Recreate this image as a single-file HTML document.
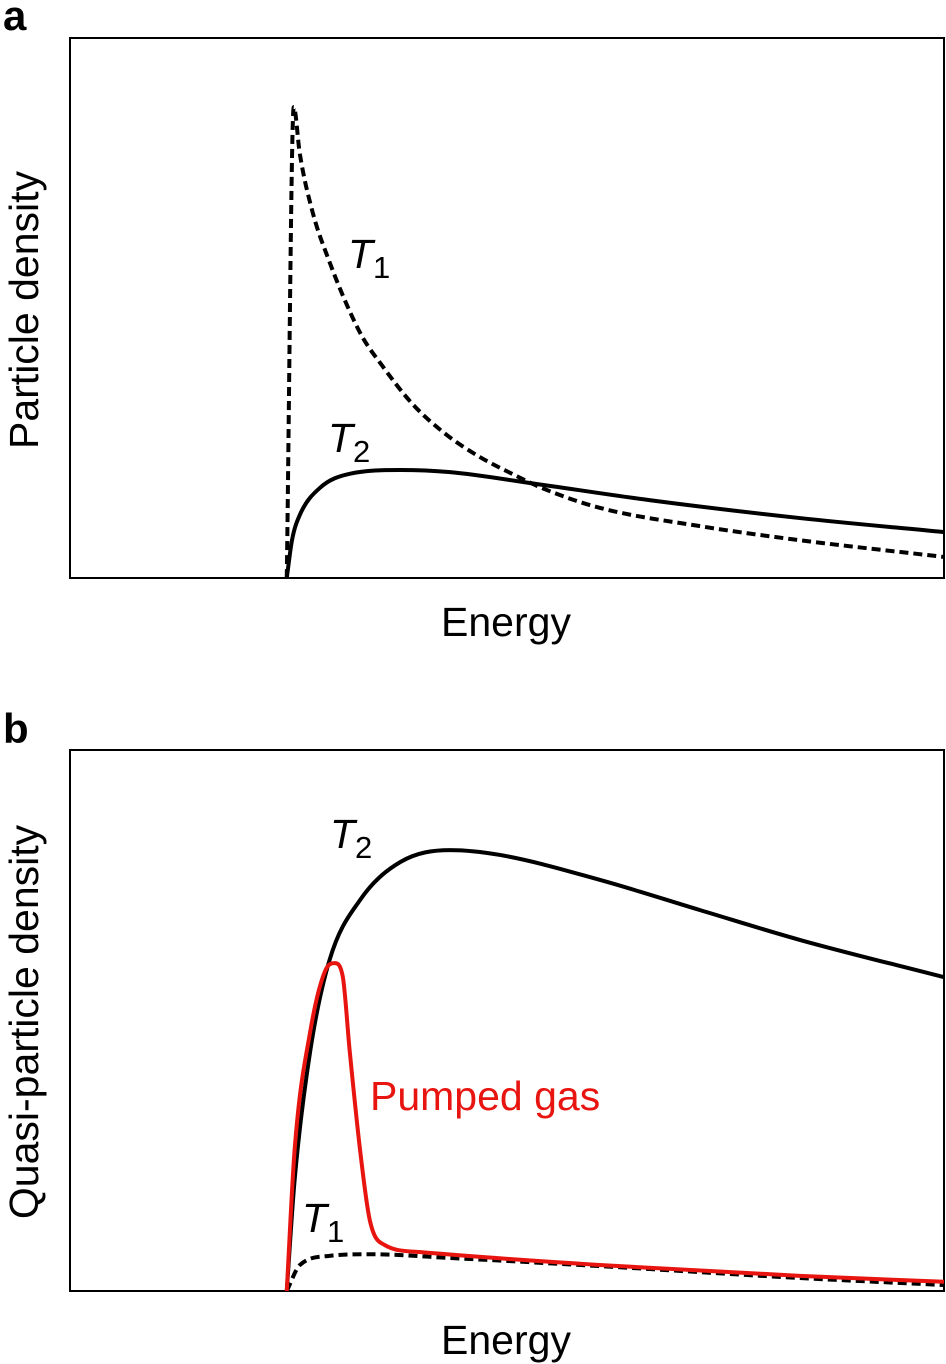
<!DOCTYPE html>
<html><head><meta charset="utf-8"><style>
body{margin:0;background:#fff}
svg{display:block;font-family:"Liberation Sans",sans-serif}
</style></head><body>
<svg width="946" height="1364" viewBox="0 0 946 1364">
<g id="root"></g>
</svg>
<script>
const aT1x=[24.8,25.6,26.3,27.8,29.7,31.7,33.5,35.5,39.2,43.1,46.9,50.7,54.1,60.6,72.1,83.5,100];
const aT1y=[0,87.2,78.5,67.5,58.5,50.5,44.5,39.8,32.2,26.5,22.4,19.2,16.6,13.0,9.6,7.0,3.9];
const aT2x=[24.8,25.4,26.3,28.6,32.0,37.8,43.5,52.6,66.4,83.5,100];
const aT2y=[0,7.0,11.7,16.7,19.3,20.0,19.6,17.6,14.4,11.1,8.5];
const bT2x=[24.8,25.7,27.5,29.7,33.2,37.8,43.5,49.2,60.6,72.1,83.5,100];
const bT2y=[0,20.5,44.5,61.2,72.3,79.3,81.5,80.6,76.0,70.4,64.9,58.0];
const bRedx=[24.8,25.7,27.5,29.2,30.3,31.2,32.0,33.2,34.3,36.0,40.0,60.6,83.5,100];
const bRedy=[0,26.1,48.1,59.2,60.6,58.2,44.4,25.9,13.1,8.5,7.2,4.8,2.8,1.7];
const bT1x=[24.8,26.3,29.7,34.3,43.5,60.6,83.5,100];
const bT1y=[0,4.8,6.5,6.8,6.1,4.6,2.4,1.1];
const NS='http://www.w3.org/2000/svg';
const root=document.getElementById('root');
function mk(t,a,p){const e=document.createElementNS(NS,t);for(const k in a)e.setAttribute(k,a[k]);(p||root).appendChild(e);return e;}
function panel(top,bot){return {x:v=>70+v*8.74,y:v=>bot-v*(bot-top)/100};}
function path(xs,ys,P){
  const X=xs.map(P.x),Y=ys.map(P.y),n=X.length;
  const d=[],m=new Array(n);
  for(let i=0;i<n-1;i++)d.push((Y[i+1]-Y[i])/(X[i+1]-X[i]));
  m[0]=d[0];m[n-1]=d[n-2];
  for(let i=1;i<n-1;i++){m[i]=(d[i-1]*d[i]<=0)?0:(d[i-1]+d[i])/2;}
  for(let i=0;i<n-1;i++){if(d[i]===0){m[i]=0;m[i+1]=0;continue;}
    const a=m[i]/d[i],b=m[i+1]/d[i],s=a*a+b*b;if(s>9){const t=3/Math.sqrt(s);m[i]=t*a*d[i];m[i+1]=t*b*d[i];}}
  let p='M'+X[0]+','+Y[0];
  for(let i=0;i<n-1;i++){const h=(X[i+1]-X[i])/3;
    p+=' C'+(X[i]+h)+','+(Y[i]+m[i]*h)+' '+(X[i+1]-h)+','+(Y[i+1]-m[i+1]*h)+' '+X[i+1]+','+Y[i+1];}
  return p;}
const A=panel(38,578),B=panel(750,1291);
function frame(top,bot,name){const r=mk('rect',{x:70,y:top,width:874,height:bot-top,fill:'none',stroke:'#000','stroke-width':2});}
frame(38,578,'panel-a-frame');frame(750,1291,'panel-b-frame');
function line(xs,ys,P,col,dash,name){const e=mk('path',{d:path(xs,ys,P),fill:'none',stroke:col,'stroke-width':4,'stroke-linejoin':'round'});if(dash)e.setAttribute('stroke-dasharray','9 5');
}
line(aT2x,aT2y,A,'#000',false,'a-t2-curve');
line(aT1x,aT1y,A,'#000',true,'a-t1-curve');
line(bT2x,bT2y,B,'#000',false,'b-t2-curve');
line(bT1x,bT1y,B,'#000',true,'b-t1-curve');
line(bRedx,bRedy,B,'#e8140f',false,'b-pumped-curve');
function txt(x,y,s,attrs,name){const e=mk('text',Object.assign({x:x,y:y,'font-size':41},attrs||{}));e.innerHTML=s;return e;}
txt(3,30,'a',{'font-weight':'bold','font-size':42},'panel-a-label');
txt(3,743,'b',{'font-weight':'bold','font-size':42},'panel-b-label');
txt(506,636,'Energy',{'text-anchor':'middle'},'a-x-axis-title');
txt(506,1354,'Energy',{'text-anchor':'middle'},'b-x-axis-title');
txt(0,0,'Particle density',{'text-anchor':'middle',transform:'translate(38,310) rotate(-90)'},'a-y-axis-title');
txt(0,0,'Quasi-particle density',{'text-anchor':'middle',transform:'translate(38,1022) rotate(-90)'},'b-y-axis-title');
function tl(x,y,sub,name){txt(x,y,'<tspan font-style="italic">T</tspan><tspan dy="10" font-size="31">'+sub+'</tspan>',{},name);}
tl(348,268,'1','a-t1-label');tl(328,452,'2','a-t2-label');tl(330,848,'2','b-t2-label');tl(302,1232,'1','b-t1-label');
txt(370,1110,'Pumped gas',{fill:'#e8140f'},'b-pumped-label');
</script>
</body></html>
